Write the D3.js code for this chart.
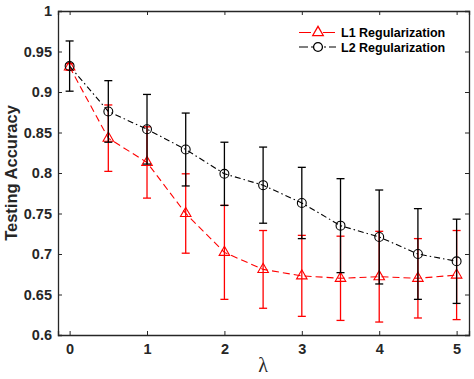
<!DOCTYPE html>
<html><head><meta charset="utf-8">
<script src="https://cdn.jsdelivr.net/npm/d3@7"></script>
<style>body{margin:0;background:#fff}svg{display:block}</style>
</head><body>
<script>
const lambdas = [0, 0.5, 1, 1.5, 2, 2.5, 3, 3.5, 4, 4.5, 5];
const l1Mean = [0.931, 0.843, 0.813, 0.750, 0.702, 0.681, 0.673, 0.670, 0.672, 0.670, 0.674];
const l1Err  = [0.004, 0.041, 0.044, 0.049, 0.058, 0.048, 0.050, 0.052, 0.056, 0.049, 0.055];
const l2Mean = [0.932, 0.876, 0.854, 0.829, 0.799, 0.785, 0.763, 0.735, 0.721, 0.700, 0.691];
const l2Err  = [0.031, 0.038, 0.043, 0.045, 0.039, 0.047, 0.044, 0.058, 0.058, 0.056, 0.052];
const xTicks = [0, 1, 2, 3, 4, 5];
const yTicks = [0.6, 0.65, 0.7, 0.75, 0.8, 0.85, 0.9, 0.95, 1];
const seriesNames = ["L1 Regularization", "L2 Regularization"];

const W = 474, H = 379;
const m = {l: 58, r: 5, t: 11, b: 44};
const svg = d3.select("body").append("svg").attr("width", W).attr("height", H)
  .style("font-family", "'Liberation Sans', Arial, Helvetica, sans-serif");

const x = d3.scaleLinear().domain([-0.15, 5.16]).range([m.l, W - m.r]);
const y = d3.scaleLinear().domain([0.6, 1]).range([H - m.b, m.t]);
const axisColor = "#262626";

// axes
const gx = svg.append("g").attr("transform", `translate(0,${H - m.b})`)
  .call(d3.axisBottom(x).tickValues(xTicks).tickSize(-4).tickPadding(9).tickFormat(d3.format("d")));
const gxt = svg.append("g").attr("transform", `translate(0,${m.t})`)
  .call(d3.axisTop(x).tickValues(xTicks).tickSize(-4).tickFormat(""));
const gy = svg.append("g").attr("transform", `translate(${m.l},0)`)
  .call(d3.axisLeft(y).tickValues(yTicks).tickSize(-4).tickPadding(6).tickFormat(d => String(+d.toFixed(2))));
const gyr = svg.append("g").attr("transform", `translate(${W - m.r},0)`)
  .call(d3.axisRight(y).tickValues(yTicks).tickSize(-4).tickFormat(""));
[gx, gxt, gy, gyr].forEach(g => {
  g.select(".domain").attr("stroke", axisColor).attr("stroke-width", 1.3);
  g.selectAll(".tick line").attr("stroke", axisColor).attr("stroke-width", 1);
  g.selectAll("text").attr("fill", axisColor).style("font-size", "14.5px").style("font-weight", "bold").style("font-family", "'Liberation Sans', Arial, sans-serif");
});

// axis labels
svg.append("text").attr("x", x(2.5)).attr("y", 372).attr("text-anchor", "middle")
  .style("font-size", "20px").style("font-family", "'Liberation Serif', 'DejaVu Serif', serif").attr("fill", axisColor).text("λ");
svg.append("text").attr("transform", `translate(17,${y(0.8)}) rotate(-90)`).attr("text-anchor", "middle")
  .style("font-size", "16.5px").style("font-weight", "bold").attr("fill", axisColor).text("Testing Accuracy");

const capW = 4;
function drawSeries(mean, err, color, dash, marker) {
  const g = svg.append("g");
  const data = lambdas.map((l, i) => ({l, v: mean[i], e: err[i]}));
  g.append("path").datum(data)
    .attr("d", d3.line().x(d => x(d.l)).y(d => y(d.v)))
    .attr("fill", "none").attr("stroke", color).attr("stroke-width", 1.1).attr("stroke-dasharray", dash);
  const eb = g.selectAll("g.eb").data(data).join("g");
  eb.append("line").attr("x1", d => x(d.l)).attr("x2", d => x(d.l))
    .attr("y1", d => y(d.v - d.e)).attr("y2", d => y(d.v + d.e)).attr("stroke", color).attr("stroke-width", 1.3);
  eb.append("line").attr("x1", d => x(d.l) - capW).attr("x2", d => x(d.l) + capW)
    .attr("y1", d => y(d.v + d.e)).attr("y2", d => y(d.v + d.e)).attr("stroke", color).attr("stroke-width", 1.3);
  eb.append("line").attr("x1", d => x(d.l) - capW).attr("x2", d => x(d.l) + capW)
    .attr("y1", d => y(d.v - d.e)).attr("y2", d => y(d.v - d.e)).attr("stroke", color).attr("stroke-width", 1.3);
  g.selectAll("path.mk").data(data).join("path")
    .attr("transform", d => `translate(${x(d.l)},${y(d.v)})`)
    .attr("d", marker).attr("fill", "none").attr("stroke", color).attr("stroke-width", 1.1);
}
const triPath = d3.symbol(d3.symbolTriangle, 48)();
const circPath = d3.symbol(d3.symbolCircle, 62)();
drawSeries(l1Mean, l1Err, "#ff0000", "7,4", triPath);
drawSeries(l2Mean, l2Err, "#000000", "6,3,1.5,3", circPath);

// legend
const lg = svg.append("g");
const legendItems = [
  {name: seriesNames[0], color: "#ff0000", dash: "12,12,12", marker: triPath, yy: 32.5},
  {name: seriesNames[1], color: "#000000", dash: "9,3,2,11,2,3,9", marker: circPath, yy: 47}
];
legendItems.forEach(it => {
  lg.append("line").attr("x1", 299).attr("x2", 336).attr("y1", it.yy).attr("y2", it.yy)
    .attr("stroke", it.color).attr("stroke-width", 1.2).attr("stroke-dasharray", it.dash);
  lg.append("path").attr("transform", `translate(318,${it.yy})`).attr("d", it.marker)
    .attr("fill", "none").attr("stroke", it.color).attr("stroke-width", 1.3);
  lg.append("text").attr("x", 341).attr("y", it.yy + 4.5).style("font-size", "12.5px").style("font-weight", "bold")
    .attr("fill", "#000").text(it.name);
});
</script>
</body></html>
